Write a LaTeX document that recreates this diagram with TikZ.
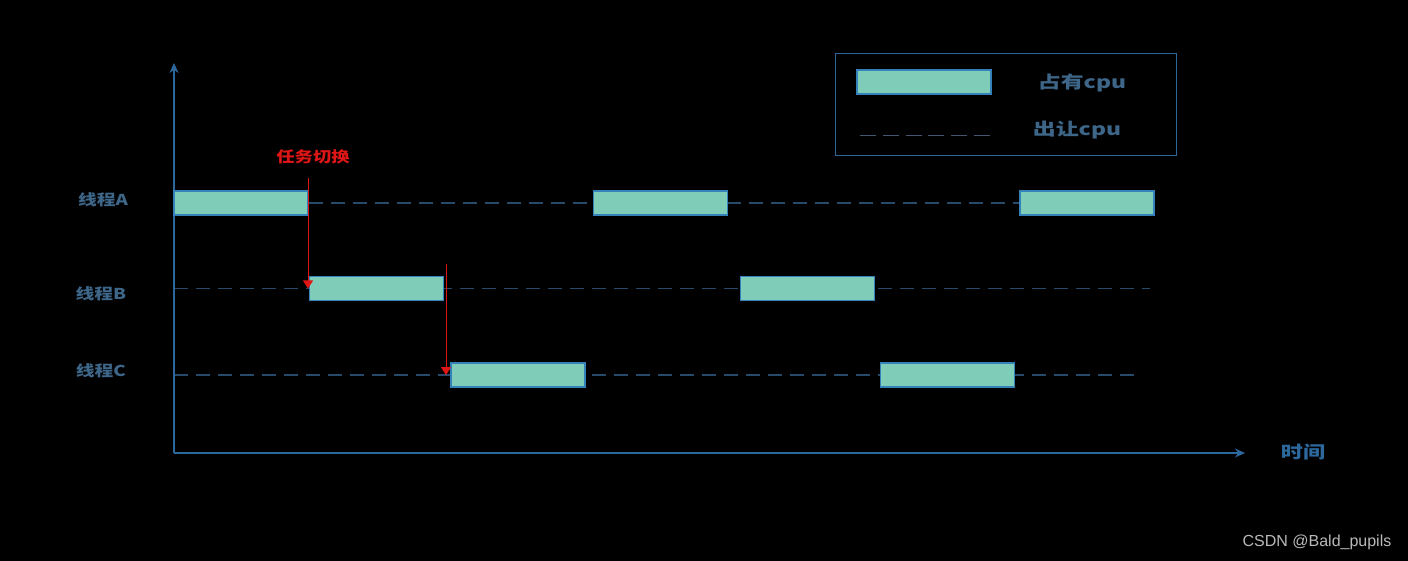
\documentclass[tikz,border=0pt]{standalone}
\usepackage{fontspec}
\usepackage{tikz}
\usetikzlibrary{arrows.meta,positioning,backgrounds}
\newfontfamily\cjk{Noto Sans CJK SC}
\newfontfamily\wmfont{Liberation Sans}
\definecolor{thbg}{RGB}{0,0,0}
\definecolor{thaxis}{RGB}{44,104,156}
\definecolor{thbar}{RGB}{127,204,184}
\definecolor{thedge}{RGB}{52,130,185}
\definecolor{thdash}{RGB}{40,74,106}
\definecolor{thkey}{RGB}{70,86,112}
\definecolor{thtxt}{RGB}{62,102,136}
\definecolor{thred}{RGB}{222,22,22}
\definecolor{thmark}{RGB}{185,185,185}
\newcommand{\wide}[2]{\scalebox{#1}[1]{#2}}
\tikzset{
  bar/.style={
    draw=thedge, fill=thbar, line width=1.1pt,
    minimum width=134pt, minimum height=24pt, inner sep=0pt
  },
  axis/.style={-{Stealth[length=10pt,width=9pt]}, draw=thaxis, line width=1.3pt},
  idle/.style={draw=thdash, line width=1.1pt, dash pattern=on 14pt off 8pt},
  sw/.style={-{Triangle[length=8pt,width=10pt]}, draw=thred, line width=1pt},
  lab/.style={font=\cjk\bfseries\fontsize{15}{17}\selectfont, text=thtxt},
  big/.style={lab, font=\cjk\bfseries\fontsize{17}{19}\selectfont},
  legbox/.style={draw=thaxis, line width=1pt, inner sep=0pt}
}
\begin{document}
\begin{tikzpicture}[x=1pt,y=-1pt]
  \useasboundingbox (0,0) rectangle (1408,561);
  % axes
  \coordinate (o) at (174,453);
  \coordinate (ytop) at (174,63);
  \coordinate (xend) at (1245,453);
  \draw[axis] (o) -- (ytop);
  \draw[axis] (o) -- (xend);
  \node[big, text=thaxis] (tlab) at (1303,452) {\wide{1.3}{时间}};

  % threads
  \node[lab] (la) at (103,200) {\wide{1.25}{线程A}};
  \node[lab] (lb) at (101,294) {\wide{1.25}{线程B}};
  \node[lab] (lc) at (101,371) {\wide{1.25}{线程C}};

  \node[bar] (a1) at (241,203) {};
  \node[bar] (a2) at (660.5,203) {};
  \node[bar] (a3) at (1087,203) {};
  \node[bar] (b1) at (376.5,288.5) {};
  \node[bar] (b2) at (807.5,288.5) {};
  \node[bar] (c1) at (518,375) {};
  \node[bar] (c2) at (947.5,375) {};

  \coordinate (bend) at (1150,288.5);
  \coordinate (cend) at (1140,375);
  \begin{scope}[on background layer]
    \fill[thbg] (0,0) rectangle (1408,561);
    \draw[idle] (a1.east) -- (a3.west);
    \draw[idle] (o |- b1.west) -- (bend);
    \draw[idle] (o |- c1.west) -- (cend);
  \end{scope}

  % switches
  \coordinate (s1) at (308,178);
  \coordinate (s2) at (446,264);
  \draw[sw] (s1) -- (s1 |- b1.west);
  \draw[sw] (s2) -- (s2 |- c1.west);
  \node[lab, text=thred] (swl) at (313,157) {\wide{1.22}{任务切换}};

  % legend
  \node[legbox, minimum width=341pt, minimum height=102pt] (leg) at (1005.5,105) {};
  \node[bar] (kbar) at (924,82) {};
  \coordinate (kd1) at (860,135);
  \coordinate (kd2) at (990,135);
  \draw[draw=thkey, line width=0.9pt, dash pattern=on 16pt off 6.8pt] (kd1) -- (kd2);
  \node[big] (kl1) at (1082,83) {\wide{1.35}{占有cpu}};
  \node[big] (kl2) at (1077,130) {\wide{1.35}{出让cpu}};

  \node[font=\wmfont\fontsize{16}{18}\selectfont, text=thmark] (wm) at (1317,542) {CSDN @Bald\_pupils};
\end{tikzpicture}
\end{document}
